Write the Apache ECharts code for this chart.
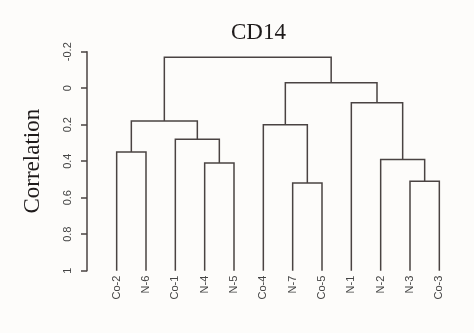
<!DOCTYPE html>
<html><head><meta charset="utf-8">
<script src="https://cdn.jsdelivr.net/npm/echarts@6/dist/echarts.min.js"></script>
<style>html,body{margin:0;padding:0;background:#fdfcfa;}#c{width:474px;height:333px;}</style>
</head><body><div id="c"></div>
<script>
// Leaf order along the x axis
var leaves = ['Co-2','N-6','Co-1','N-4','N-5','Co-4','N-7','Co-5','N-1','N-2','N-3','Co-3'];
// Merges: [childA, childB, height]; children are leaf names or 'm<i>' (earlier merge index)
var mergeA = ['Co-2','N-4','Co-1','m0','N-7','Co-4','N-3','N-2','N-1','m5','m3'];
var mergeB = ['N-6','N-5','m1','m2','Co-5','m4','Co-3','m6','m7','m8','m9'];
var mergeH = [0.35, 0.41, 0.28, 0.18, 0.52, 0.20, 0.51, 0.39, 0.08, -0.03, -0.17];
var leafHeight = 1;
var yTickLabels = ['-0.2','0','0.2','0.4','0.6','0.8','1'];

var nodes = {};
leaves.forEach(function(n,i){ nodes[n] = {x:i, h:leafHeight}; });
var segs = [];
for (var i=0;i<mergeH.length;i++){
  var a = nodes[mergeA[i]], b = nodes[mergeB[i]];
  segs.push([a.x, a.h, mergeH[i], b.x, b.h]);
  nodes['m'+i] = {x:(a.x+b.x)/2, h:mergeH[i]};
}

var chart = echarts.init(document.getElementById('c'));
var lineColor = '#4a4342';
chart.setOption({
  animation:false,
  backgroundColor:'#fdfcfa',
  title:{text:'CD14', left:226, top:16, textStyle:{fontFamily:'Liberation Serif', fontSize:23, fontWeight:'normal', color:'#1e1a1a'}},
  grid:{left:102, top:51.7, width:352, height:219},
  xAxis:[
    {type:'category', data:leaves, axisLine:{show:false}, axisTick:{show:false},
     axisLabel:{rotate:90, margin:5, fontFamily:'Liberation Sans', fontSize:11, color:'#444'}},
    {type:'value', min:-0.5, max:11.5, show:false}
  ],
  yAxis:{type:'value', inverse:true, min:-0.2, max:1, interval:0.2, offset:15,
    splitLine:{show:false},
    axisLine:{show:true, onZero:false, lineStyle:{color:lineColor, width:1.5}},
    axisTick:{show:true, length:6, lineStyle:{color:lineColor, width:1.5}},
    axisLabel:{rotate:90, margin:14, fontFamily:'Liberation Sans', fontSize:11, color:'#444',
      formatter:function(v){ var k=Math.round((v+0.2)/0.2); return yTickLabels[k]; }},
    name:'Correlation', nameLocation:'middle', nameRotate:90, nameGap:43,
    nameTextStyle:{fontFamily:'Liberation Serif', fontSize:23, color:'#1e1a1a'}
  },
  series:[{
    type:'custom', xAxisIndex:1, yAxisIndex:0, data:segs,
    renderItem:function(params, api){
      var p1 = api.coord([api.value(0), api.value(1)]);
      var p2 = api.coord([api.value(0), api.value(2)]);
      var p3 = api.coord([api.value(3), api.value(2)]);
      var p4 = api.coord([api.value(3), api.value(4)]);
      return {type:'polyline', shape:{points:[p1,p2,p3,p4]},
        style:{stroke:lineColor, lineWidth:1.5, fill:null}};
    }
  }]
});
</script></body></html>
